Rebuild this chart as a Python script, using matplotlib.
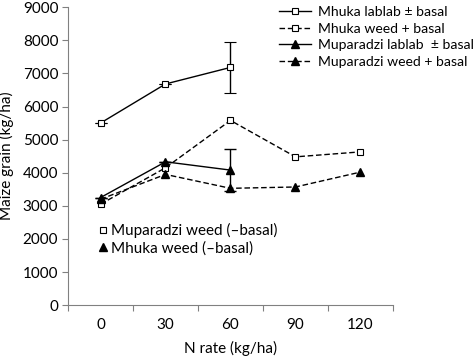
import numpy as np
import matplotlib.pyplot as plt
from matplotlib.lines import Line2D

plt.rcParams['font.family'] = ['Lato', 'DejaVu Sans']

# %% data
n_rate = ['0', '30', '60', '90', '120']
mhuka_lablab = [5500, 6680, 7180]
mhuka_lablab_err = [0, 0, 770]
mhuka_weed = [3050, 4150, 5580, 4480, 4630]
mupa_lablab = [3250, 4330, 4080]
mupa_lablab_err = [0, 0, 640]
mupa_weed = [3200, 3950, 3530, 3570, 4020]

x = np.arange(len(n_rate))

fig = plt.figure(figsize=(4.74, 3.57), dpi=100)
ax = fig.add_axes([0.1435, 0.145, 0.6855, 0.835])

sq = dict(marker='s', ms=4.5, mfc='white', mec='black', mew=0.8)
tri = dict(marker='^', ms=5.5, mfc='black', mec='black')
dash = (0, (4, 2))

ax.errorbar(x[:3], mhuka_lablab, yerr=mhuka_lablab_err, color='black', lw=1,
            capsize=4, elinewidth=1, **sq)
ax.plot(x, mhuka_weed, color='black', lw=1, ls=dash, **sq)
ax.errorbar(x[:3], mupa_lablab, yerr=mupa_lablab_err, color='black', lw=1,
            capsize=4, elinewidth=1, **tri)
ax.plot(x, mupa_weed, color='black', lw=1, ls=dash, **tri)

ax.set_xlim(-0.5, 4.5)
ax.set_ylim(0, 9000)
ax.set_yticks(np.arange(0, 9001, 1000))
ax.set_xticks(np.arange(-0.5, 4.6, 1))
ax.set_xticklabels([])
ax.set_xticks(x, minor=True)
ax.set_xticklabels(n_rate, minor=True)
ax.tick_params(axis='x', which='minor', length=0, pad=9, labelsize=11)
ax.tick_params(axis='x', which='major', length=4, color='#808080')
ax.tick_params(axis='y', length=4, color='#808080', labelsize=11, pad=3)
for s in ['top', 'right']:
    ax.spines[s].set_visible(False)
for s in ['left', 'bottom']:
    ax.spines[s].set_color('#808080')

ax.set_xlabel('N rate (kg/ha)', fontsize=11, labelpad=6.5)
ax.set_ylabel('Maize grain (kg/ha)', fontsize=11, labelpad=6)

h1 = [Line2D([], [], color='black', lw=1, **sq),
      Line2D([], [], color='black', lw=1, ls=dash, **sq),
      Line2D([], [], color='black', lw=1, **tri),
      Line2D([], [], color='black', lw=1, ls=dash, **tri)]
l1 = ['Mhuka lablab \u00b1 basal', 'Mhuka weed + basal',
      'Muparadzi lablab  \u00b1 basal', 'Muparadzi weed + basal']
fig.legend(h1, l1, loc='upper left', bbox_to_anchor=(0.576, 0.999),
           frameon=False, fontsize=10.1, handlelength=2.3, handletextpad=0.5,
           labelspacing=0.33, borderaxespad=0)

h2 = [Line2D([], [], ls='none', **sq), Line2D([], [], ls='none', **tri)]
ax.legend(h2, ['Muparadzi weed (\u2013basal)', 'Mhuka weed (\u2013basal)'],
          loc='upper left', bbox_to_anchor=(0.075, 0.295), frameon=False,
          fontsize=11, handlelength=0.6, handletextpad=0.2,
          labelspacing=0.18, borderaxespad=0)

fig.savefig('out.png', dpi=100)
